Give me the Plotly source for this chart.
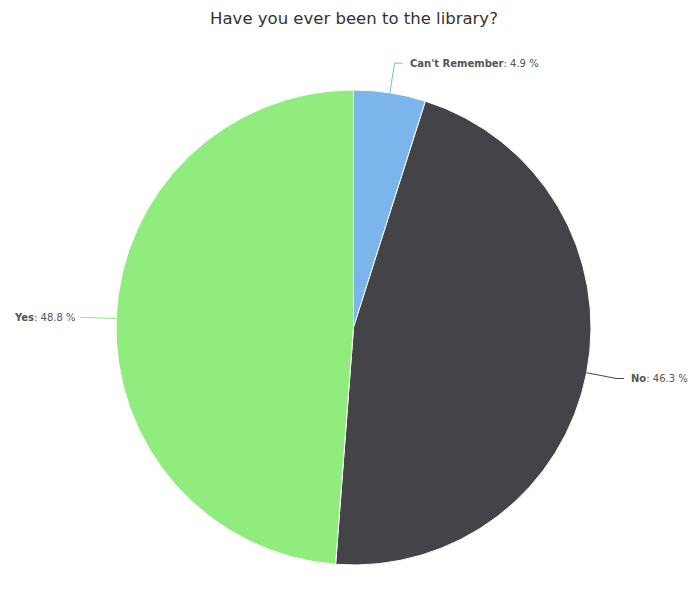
import math
import plotly.graph_objects as go

# survey answers, in the order they are drawn (clockwise from 12 o'clock)
labels = ["Can't Remember", "No", "Yes"]
shares = [4.9, 46.3, 48.8]
colors = ["#7cb5ec", "#434348", "#90ed7d"]

# the page has an 8px body margin, so the figure is a bit smaller than the window
W, H = 692, 582
cx, cy, r = 345.5, 319.5, 237.5   # pie centre and radius in figure pixels
dist = 30                         # how far the labels sit outside the pie


def px(x, y):
    # pixel -> paper coords
    return x / W, 1 - y / H


fig = go.Figure(go.Pie(
    labels=labels,
    values=shares,
    sort=False,
    direction="clockwise",
    rotation=0,
    marker=dict(colors=colors, line=dict(color="white", width=1)),
    textinfo="none",
    hoverinfo="label+percent",
    showlegend=False,
    domain=dict(x=[(cx - r) / W, (cx + r) / W], y=[1 - (cy + r) / H, 1 - (cy - r) / H]),
))

# leader lines + labels, placed from each slice's middle angle
total = sum(shares)
start = 0.0
for name, val, col in zip(labels, shares, colors):
    mid = (start + val / 2) / total * 2 * math.pi
    start += val
    sx, sy = math.sin(mid), -math.cos(mid)
    ex, ey = cx + r * sx, cy + r * sy
    lx, ly = cx + (r + dist) * sx, cy + (r + dist) * sy
    right = sx >= 0
    if right:
        line_end, text_x = lx + 8, lx + 13
    else:
        line_end, text_x = lx - 6, lx - 8
    x0, y0 = px(ex, ey)
    x1, y1 = px(lx, ly)
    x2, y2 = px(line_end, ly)
    fig.add_shape(type="path", xref="paper", yref="paper",
                  path=f"M {x0} {y0} L {x1} {y1} L {x2} {y2}",
                  line=dict(color=col, width=1))
    fig.add_annotation(
        x=text_x / W, y=1 - ly / H, xref="paper", yref="paper",
        text=f"<b>{name}</b>: {val} %",
        showarrow=False,
        xanchor="left" if right else "right",
        yanchor="middle",
        font=dict(family="DejaVu Sans", size=10, color="#555555"),
    )

fig.update_layout(
    width=W, height=H,
    margin=dict(l=0, r=0, t=0, b=0),
    paper_bgcolor="white",
    title=dict(text="Have you ever been to the library?", x=0.5, xanchor="center",
               y=1 - 10 / H, yanchor="middle",
               font=dict(family="DejaVu Sans", size=16.5, color="#333333")),
)

fig.write_html("out.html")
